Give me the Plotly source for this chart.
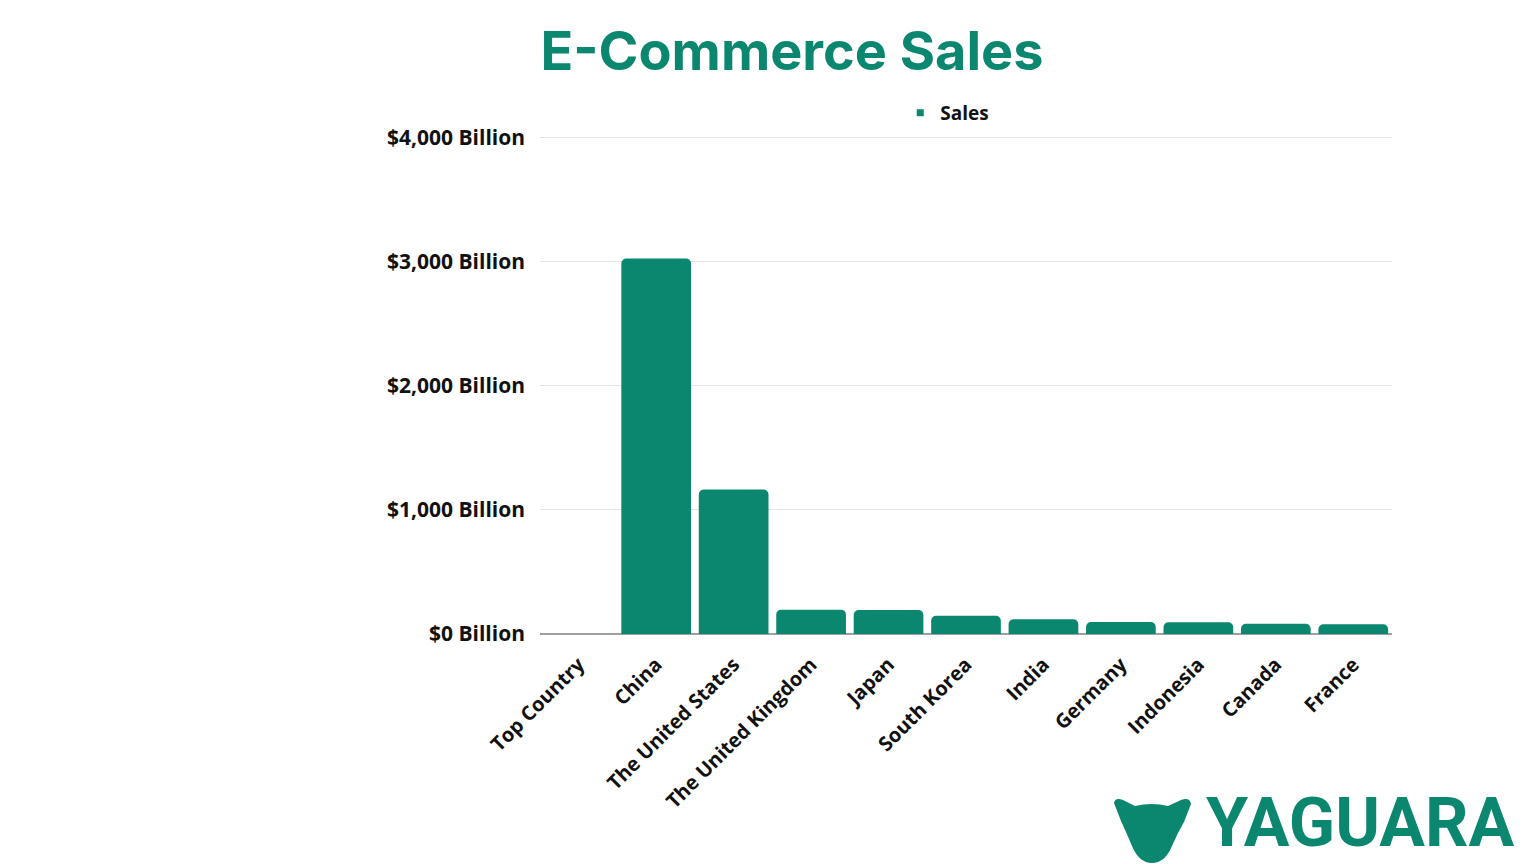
import plotly.graph_objects as go

countries = ["Top Country", "China", "The United States", "The United Kingdom", "Japan",
             "South Korea", "India", "Germany", "Indonesia", "Canada", "France"]
sales = [0, 3023, 1163, 196, 193, 147, 118, 97, 95, 82, 79]
y_ticks = [0, 1000, 2000, 3000, 4000]
y_tick_text = ["$0 Billion", "$1,000 Billion", "$2,000 Billion", "$3,000 Billion", "$4,000 Billion"]

GREEN = "#0b8770"
W, H = 1536, 864
L, R, T, B = 540, 144, 131, 230

fig = go.Figure()
fig.add_trace(go.Bar(
    x=countries, y=sales, name="Sales",
    marker=dict(color=GREEN, cornerradius=5, line=dict(width=0)),
    showlegend=False,
))
fig.add_trace(go.Scatter(
    x=[None], y=[None], mode="markers", name="Sales",
    marker=dict(symbol="square", size=7, color=GREEN), showlegend=True,
))

def px2paper(px, py):
    return (px - L) / (W - L - R), (H - B - py) / (H - T - B)

head = [("M", 1114, 803), ("Q", 1115, 797, 1123, 800), ("L", 1135, 806),
        ("Q", 1152, 802, 1168, 806), ("L", 1181, 800), ("Q", 1190, 797, 1191, 804),
        ("L", 1184, 822), ("Q", 1177, 834, 1172, 846), ("Q", 1165, 863, 1152, 863),
        ("Q", 1139, 863, 1132, 846), ("Q", 1127, 834, 1121, 821)]
parts = []
for seg in head:
    cmd, coords = seg[0], seg[1:]
    pts = []
    for i in range(0, len(coords), 2):
        x, y = px2paper(coords[i], coords[i + 1])
        pts.append(f"{x:.5f},{y:.5f}")
    parts.append(cmd + " " + " ".join(pts))
path = " ".join(parts) + " Z"

fig.update_layout(
    width=W, height=H,
    margin=dict(l=L, r=R, t=T, b=B, pad=14),
    paper_bgcolor="white", plot_bgcolor="white",
    title=dict(text="<b>E-Commerce Sales</b>", x=792 / W, xanchor="center",
               y=1 - 51 / H, yanchor="middle",
               font=dict(family="Inter", size=54, color=GREEN)),
    font=dict(family="Open Sans", color="#111111"),
    bargap=0.1,
    legend=dict(orientation="h", x=0.478, xanchor="center", y=px2paper(0, 113)[1],
                yanchor="middle",
                font=dict(size=19, family="Open Sans", weight=700), itemwidth=30,
                bgcolor="rgba(0,0,0,0)"),
    xaxis=dict(tickangle=-45, tickfont=dict(size=20, weight=700, family="Open Sans"),
               showgrid=False, showline=False, ticks="", tickson="labels"),
    yaxis=dict(range=[0, 4050], tickvals=y_ticks, ticktext=y_tick_text,
               tickfont=dict(size=21, weight=700, family="Open Sans"),
               showgrid=True, gridcolor="#e3e3e3", gridwidth=1,
               zeroline=True, zerolinecolor="#a0a0a0", zerolinewidth=1.5,
               ticks=""),
    shapes=[dict(type="path", xref="paper", yref="paper", path=path,
                 fillcolor=GREEN, line=dict(width=0), layer="above")],
    annotations=[dict(text="<b>YAGUARA</b>", xref="paper", yref="paper",
                      x=px2paper(1205, 0)[0], y=px2paper(0, 864)[1],
                      xanchor="left", yanchor="bottom", showarrow=False, borderpad=0,
                      font=dict(family="Roboto", size=68, color=GREEN))],
)

fig.write_html("out.html", config={"displayModeBar": False},
               post_script="document.body.style.margin='0';document.body.style.overflow='hidden';")
